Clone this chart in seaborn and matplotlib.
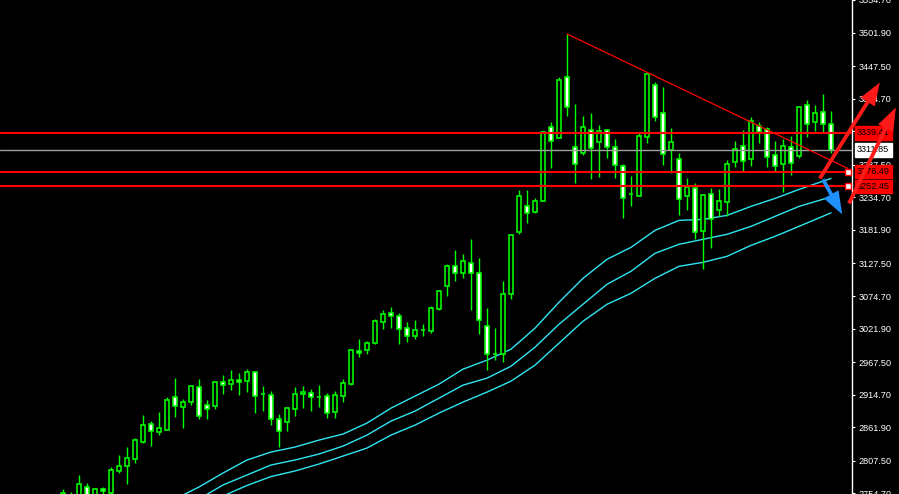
import numpy as np
import pandas as pd
import matplotlib
matplotlib.use("Agg")
import matplotlib.pyplot as plt
import seaborn as sns

# ---------------- data (prices) ----------------
opens = [2736.0, 2744.1, 2736.0, 2764.6, 2747.3, 2761.4, 2755.9, 2791.6, 2799.7, 2811.0,
         2838.5, 2866.6, 2854.7, 2857.9, 2910.4, 2895.2, 2903.3, 2926.5, 2897.4, 2896.8,
         2934.6, 2932.4, 2938.4, 2937.3, 2950.8, 2915.2, 2913.6, 2874.7, 2870.9, 2890.9,
         2916.2, 2916.8, 2911.4, 2912.5, 2887.1, 2913.0, 2931.9, 2986.4, 2986.9, 2998.8,
         3032.8, 3048.0, 3043.1, 3023.7, 3010.1, 3019.8, 3018.2, 3053.3, 3091.1, 3124.1,
         3112.1, 3128.9, 3112.7, 3026.9, 2981.0, 2981.3, 3078.7, 3178.5, 3221.2, 3210.9,
         3229.3, 3349.1, 3331.3, 3430.1, 3316.7, 3306.4, 3344.2, 3324.2, 3344.2, 3316.7,
         3286.0, 3240.6, 3237.4, 3332.9, 3417.1, 3371.8, 3311.9, 3297.3, 3237.4, 3250.3,
         3180.7, 3240.6, 3214.1, 3227.4, 3292.4, 3318.3, 3297.3, 3350.7, 3345.3, 3303.8,
         3288.6, 3316.7, 3302.1, 3384.7, 3357.2, 3373.4, 3354.0]
highs = [2761.9, 2757.1, 2784.6, 2771.6, 2763.5, 2765.1, 2797.5, 2817.0, 2829.9, 2844.5,
         2881.7, 2872.0, 2886.6, 2910.4, 2941.1, 2907.1, 2928.7, 2940.0, 2905.5, 2936.8,
         2946.5, 2954.6, 2949.7, 2956.2, 2953.0, 2928.7, 2920.6, 2883.3, 2895.2, 2927.0,
         2928.7, 2924.3, 2930.3, 2916.8, 2920.6, 2940.5, 2988.6, 3004.8, 3002.0, 3037.1,
         3051.7, 3056.6, 3047.4, 3032.3, 3035.5, 3030.2, 3059.3, 3085.2, 3127.3, 3148.9,
         3142.4, 3166.7, 3135.9, 3054.9, 3022.6, 3098.7, 3175.9, 3246.0, 3246.0, 3233.0,
         3342.6, 3357.2, 3430.6, 3499.7, 3386.8, 3367.4, 3370.7, 3352.8, 3344.7, 3328.6,
         3288.1, 3268.7, 3338.3, 3435.4, 3422.5, 3414.4, 3347.5, 3305.9, 3265.4, 3257.3,
         3239.0, 3250.3, 3248.7, 3295.7, 3325.3, 3344.7, 3365.3, 3356.1, 3349.1, 3325.3,
         3329.7, 3334.5, 3383.6, 3392.2, 3385.2, 3403.0, 3375.5]
lows = [2727.9, 2731.1, 2727.9, 2736.0, 2740.9, 2749.0, 2754.6, 2788.3, 2770.5, 2804.5,
        2836.9, 2832.0, 2849.8, 2856.9, 2879.0, 2861.2, 2898.4, 2875.7, 2875.7, 2890.9,
        2916.2, 2922.7, 2914.6, 2919.5, 2885.5, 2888.2, 2866.0, 2830.4, 2856.3, 2880.6,
        2892.5, 2888.7, 2895.2, 2877.4, 2877.4, 2903.3, 2930.3, 2976.1, 2980.5, 2996.7,
        3021.5, 3023.7, 2996.7, 3000.4, 3005.9, 3009.6, 3015.0, 3051.7, 3074.4, 3098.7,
        3104.0, 3051.7, 3013.4, 2954.6, 2970.8, 2968.0, 3070.0, 3175.3, 3193.1, 3209.3,
        3228.2, 3282.1, 3330.2, 3366.3, 3257.8, 3303.2, 3264.3, 3267.5, 3298.3, 3265.9,
        3201.2, 3220.6, 3236.3, 3322.6, 3358.8, 3287.6, 3274.6, 3206.0, 3214.1, 3167.2,
        3119.2, 3152.6, 3205.0, 3204.4, 3283.7, 3277.3, 3285.4, 3322.6, 3283.7, 3277.3,
        3243.3, 3271.4, 3298.9, 3332.3, 3342.0, 3340.4, 3306.4]
closes = [2755.4, 2739.2, 2769.5, 2744.1, 2761.4, 2758.2, 2792.7, 2798.6, 2811.6, 2841.2,
          2865.0, 2855.3, 2860.2, 2905.5, 2897.1, 2902.3, 2928.2, 2880.6, 2891.9, 2935.1,
          2930.8, 2937.9, 2934.6, 2950.8, 2913.0, 2915.2, 2874.7, 2856.3, 2892.7, 2915.2,
          2918.4, 2910.4, 2911.4, 2885.5, 2913.6, 2933.0, 2986.9, 2982.6, 2999.4, 3033.9,
          3046.3, 3042.5, 3021.5, 3010.7, 3019.3, 3019.8, 3056.1, 3083.6, 3122.9, 3112.1,
          3132.2, 3112.1, 3036.0, 2981.3, 2981.0, 3078.7, 3174.2, 3237.4, 3209.9, 3229.3,
          3341.0, 3326.4, 3425.2, 3381.5, 3289.2, 3349.1, 3314.5, 3342.6, 3316.7, 3287.6,
          3234.2, 3240.6, 3333.4, 3434.6, 3365.3, 3305.4, 3324.8, 3232.5, 3252.0, 3179.1,
          3238.8, 3199.5, 3229.3, 3289.2, 3313.5, 3294.1, 3359.3, 3341.0, 3300.5, 3286.0,
          3318.3, 3290.8, 3381.5, 3354.0, 3371.8, 3354.0, 3311.85]

band_idx = [14, 17, 20, 23, 26, 29, 32, 35, 38, 41, 44, 47, 50, 53, 56, 59, 62, 65, 68,
            71, 74, 77, 80, 83, 86, 89, 92, 96]
band_upper = [2745.7, 2765.1, 2787.8, 2808.9, 2821.8, 2829.9, 2841.2, 2851.0, 2868.8, 2893.0,
              2912.5, 2931.9, 2956.2, 2970.8, 2988.6, 3022.6, 3064.7, 3103.5, 3134.3, 3153.7,
              3181.2, 3197.4, 3199.0, 3205.5, 3220.1, 3233.0, 3247.6, 3265.4]
band_middle = [2728.0, 2745.7, 2768.4, 2784.6, 2800.8, 2808.9, 2818.6, 2831.5, 2849.3, 2872.0,
               2888.2, 2909.2, 2930.3, 2941.6, 2961.0, 2991.8, 3029.0, 3061.4, 3093.8, 3114.9,
               3144.0, 3158.6, 3166.7, 3174.8, 3187.7, 3203.9, 3220.1, 3235.5]
band_lower = [2712.0, 2732.0, 2750.6, 2767.6, 2782.1, 2791.1, 2802.4, 2815.3, 2828.3, 2849.3,
              2865.5, 2885.0, 2902.8, 2919.0, 2936.8, 2962.7, 2998.3, 3033.9, 3061.4, 3079.2,
              3103.5, 3122.9, 3129.4, 3139.1, 3156.9, 3171.5, 3187.7, 3209.6]

tick_values = [3554.70, 3501.90, 3447.50, 3394.70, 3341.90, 3287.50, 3234.70, 3181.90,
               3127.50, 3074.70, 3021.90, 2967.50, 2914.70, 2861.90, 2807.50, 2754.70]
red_levels = [3339.41, 3276.49, 3252.45]
bid_level = 3311.85
trend_bars = [63, 98.1]
trend_prices = [3499.7, 3281.6]
arrow_up1 = ((94.6, 3265.4), (102.1, 3420.8))
arrow_up2 = ((98.25, 3224.9), (104.1, 3380.4))
arrow_down = ((95.0, 3263.8), (97.4, 3207.1))

# ---------------- figure ----------------
sns.set_style("dark", {"axes.facecolor": "black", "figure.facecolor": "black"})
plt.rcParams['font.family'] = ['Liberation Sans', 'DejaVu Sans']

fig = plt.figure(figsize=(8.99, 4.94), dpi=100)
fig.patch.set_facecolor("black")
ax = fig.add_axes([0, 0, 852 / 899, 1])
ax.set_facecolor("black")

cyan = "#2FE6F2"
n = len(band_idx)
band_df = pd.DataFrame({
    "bar": band_idx * 3,
    "price": band_upper + band_middle + band_lower,
    "band": ["upper"] * n + ["middle"] * n + ["lower"] * n,
})
sns.lineplot(data=band_df, x="bar", y="price", hue="band",
             palette={"upper": cyan, "middle": cyan, "lower": cyan},
             legend=False, lw=1.0, ax=ax, estimator=None, zorder=2)

# candles
x = np.arange(len(opens))
o = np.array(opens)
c = np.array(closes)
up = c >= o
green = "#00FF00"
ax.vlines(x, lows, highs, color=green, lw=1.0, zorder=3)
ax.bar(x, np.abs(c - o), bottom=np.minimum(o, c), width=0.62,
       color=np.where(up, "black", "white"), edgecolor=green, linewidth=1.15, zorder=4)

# horizontal lines
ax.axhline(bid_level, color="#A0A0A0", lw=1.0, zorder=5)
for lv in red_levels:
    ax.axhline(lv, color="#FF0000", lw=1.5, zorder=5)

# trend line
ax.plot(trend_bars, trend_prices, color="#FF0000", lw=0.9, zorder=5)
ax.scatter([trend_bars[1]] * 2, red_levels[1:], marker="s", s=16, facecolor="white",
           edgecolor="#FF0000", linewidths=1, zorder=7, clip_on=False)

# limits
ax.set_xlim(-7.875, 98.625)
ax.set_ylim(2753.8, 3553.6)
ax.set_xlabel("")
ax.set_ylabel("")

# right price axis
ax.yaxis.tick_right()
ax.set_yticks(tick_values)
ax.set_yticklabels([f"{v:.2f}" for v in tick_values])
ax.tick_params(axis="y", colors="white", length=2.5, width=0.8, pad=2.5,
               labelsize=6.6, direction="out", right=True, left=False)
ax.tick_params(axis="x", bottom=False, labelbottom=False)
for s in ["top", "left", "bottom"]:
    ax.spines[s].set_visible(False)
ax.spines["right"].set_color("white")
ax.spines["right"].set_linewidth(1.0)
ax.grid(False)

# price labels on the axis
tr = ax.get_yaxis_transform()
for lv in red_levels:
    ax.text(1.006, lv, f"{lv:.2f}", transform=tr, ha="left", va="center",
            fontsize=6.6, color="black", clip_on=False, zorder=8,
            bbox=dict(boxstyle="square,pad=0.25", fc="#FF0000", ec="#FF0000"))
ax.text(1.006, bid_level, f"{bid_level:.2f}", transform=tr, ha="left", va="center",
        fontsize=6.6, color="black", clip_on=False, zorder=8,
        bbox=dict(boxstyle="square,pad=0.25", fc="white", ec="white"))

# arrows
for (start, end) in [arrow_up1, arrow_up2]:
    ax.annotate("", xy=end, xytext=start, annotation_clip=False, zorder=9,
                arrowprops=dict(arrowstyle="simple,head_length=1.5,head_width=1.1,tail_width=0.25",
                                mutation_scale=11, color="#FF1A1A", lw=0,
                                shrinkA=0, shrinkB=0))
ax.annotate("", xy=arrow_down[1], xytext=arrow_down[0], annotation_clip=False, zorder=9,
            arrowprops=dict(arrowstyle="simple,head_length=1.5,head_width=1.1,tail_width=0.25",
                            mutation_scale=11, color="#1E90FF", lw=0,
                            shrinkA=0, shrinkB=0))

fig.savefig("out.png", dpi=100, facecolor="black")
